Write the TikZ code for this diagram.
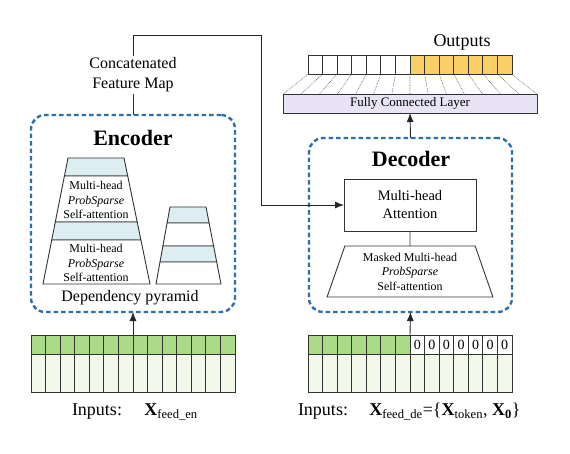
\documentclass[tikz,border=0pt]{standalone}
\usepackage{fontspec}
\setmainfont{Liberation Serif}
\usetikzlibrary{shapes.geometric,calc,positioning,arrows.meta}
\definecolor{dashblue}{RGB}{46,110,170}
\definecolor{layblue}{RGB}{220,238,242}
\definecolor{ingreen}{RGB}{170,219,134}
\definecolor{inlight}{RGB}{242,248,234}
\definecolor{outyel}{RGB}{249,208,101}
\definecolor{fclav}{RGB}{232,228,245}
\tikzset{
  grpbox/.style = {draw=dashblue, line width=2.4pt, dash pattern=on 4.5pt off 3pt, rounded corners=14pt, inner sep=0pt, outer sep=0pt},
  blk/.style = {draw=black!80, line width=0.9pt, inner sep=0pt, outer sep=0pt},
  txt/.style = {align=center, inner sep=1pt, font=\fontsize{12}{14.5}\selectfont},
  ttl/.style = {inner sep=0pt, font=\fontsize{22}{26}\selectfont\bfseries},
  lbl/.style = {inner sep=1pt, font=\fontsize{18}{22}\selectfont},
  arr/.style = {-{Latex[length=9pt,width=7pt]}, line width=0.9pt, draw=black!85},
  fan/.style = {densely dotted, line width=0.6pt, draw=black!70}
}
\begin{document}
\begin{tikzpicture}[x=1pt, y=-1pt]
\fill[white] (0,0) rectangle (570,454);
\useasboundingbox (0,0) rectangle (570,454);

% encoder side
\node [grpbox, minimum width=204pt, minimum height=197pt] (enc) at (133,213.5) {};
\node [ttl] (enct) at (133,138) {Encoder};
\coordinate (ptl) at (68,158);  \coordinate (ptr) at (124,158);
\coordinate (pbl) at (43,284);  \coordinate (pbr) at (150,284);
\foreach \a/\b/\c in {0/0.143/layblue, 0.143/0.508/white, 0.508/0.651/layblue, 0.651/1/white}
  \filldraw [blk, fill=\c] ($(ptl)!\a!(pbl)$) -- ($(ptr)!\a!(pbr)$) -- ($(ptr)!\b!(pbr)$) -- ($(ptl)!\b!(pbl)$) -- cycle;
\coordinate (qtl) at (170,207); \coordinate (qtr) at (206,207);
\coordinate (qbl) at (156,284); \coordinate (qbr) at (221,284);
\foreach \a/\b/\c in {0/0.208/layblue, 0.208/0.506/white, 0.506/0.714/layblue, 0.714/1/white}
  \filldraw [blk, fill=\c] ($(qtl)!\a!(qbl)$) -- ($(qtr)!\a!(qbr)$) -- ($(qtr)!\b!(qbr)$) -- ($(qtl)!\b!(qbl)$) -- cycle;
\node [txt] (sa1) at (96,200) {Multi-head\\\textit{ProbSparse}\\Self-attention};
\node [txt] (sa2) at (96,263) {Multi-head\\\textit{ProbSparse}\\Self-attention};
\node [inner sep=0pt, font=\fontsize{16}{19}\selectfont] (dep) at (130,298) {Dependency pyramid};
\node [align=center, inner sep=2pt, font=\fontsize{16}{20}\selectfont] (cfm) at (133,75) {Concatenated\\Feature Map};

% decoder side
\node [grpbox, minimum width=203pt, minimum height=174pt] (dec) at (410.5,225) {};
\node [ttl] (dect) at (411,159) {Decoder};
\node [blk, align=center, minimum width=132pt, minimum height=52pt,
       font=\fontsize{14.5}{18}\selectfont] (att) at (410,205) {Multi-head\\Attention};
\node [blk, txt, trapezium, trapezium left angle=71.57, trapezium right angle=71.57,
       trapezium stretches=true, minimum width=166pt, minimum height=51pt] (msa) at (410,271.5)
      {Masked Multi-head\\\textit{ProbSparse}\\Self-attention};

% outputs
\node [blk, minimum width=204pt, minimum height=19pt] (outrow) at (410,64.5) {};
\foreach \i in {0,...,13}
  \filldraw [blk, fill=white] ($(outrow.north west)+(\i*14.571,0)$) rectangle ++(14.571,19);
\foreach \i in {7,...,13}
  \filldraw [blk, fill=outyel] ($(outrow.north west)+(\i*14.571,0)$) rectangle ++(14.571,19);
\node [lbl] (outl) at (462,42) {Outputs};
\node [blk, fill=fclav, minimum width=254pt, minimum height=19pt,
       font=\fontsize{13}{15}\selectfont] (fc) at (410,103.5) {Fully Connected Layer};
\foreach \i in {0,...,14}
  \draw [fan] ($(outrow.south west)+(\i*14.571,0)$) -- ($(fc.north west)+(\i*18.143,0)$);

% input grids
\node [blk, minimum width=204pt, minimum height=57pt] (engrid) at (133,363.5) {};
\foreach \i in {0,...,13} {
  \filldraw [blk, fill=ingreen] ($(engrid.north west)+(\i*14.571,0)$) rectangle ++(14.571,19);
  \filldraw [blk, fill=inlight] ($(engrid.north west)+(\i*14.571,19)$) rectangle ++(14.571,38);
}
\node [blk, minimum width=204pt, minimum height=57pt] (degrid) at (410,363.5) {};
\foreach \i in {0,...,13}
  \filldraw [blk, fill=inlight] ($(degrid.north west)+(\i*14.571,19)$) rectangle ++(14.571,38);
\foreach \i in {0,...,6}
  \filldraw [blk, fill=ingreen] ($(degrid.north west)+(\i*14.571,0)$) rectangle ++(14.571,19);
\foreach \i in {7,...,13}
  \filldraw [blk, fill=white] ($(degrid.north west)+(\i*14.571,0)$) rectangle ++(14.571,19)
    node [midway, inner sep=0pt, font=\fontsize{14}{16}\selectfont] {0};

\node [lbl] (inen) at (97,412) {Inputs:};
\node [lbl, right=20pt of inen.base east, anchor=base west] (xen) {\textbf{X}\textsubscript{feed\_en}};
\node [lbl] (inde) at (323,412) {Inputs:};
\node [lbl, right=19pt of inde.base east, anchor=base west] (xde)
      {\textbf{X}\textsubscript{feed\_de}=\{\textbf{X}\textsubscript{token}, \textbf{X}\textsubscript{\textbf{0}}\}};

% connectors
\coordinate (turn) at (261,35);
\draw [blk] (enc.north) -- (cfm.south);
\draw [arr] (cfm.north) |- (turn) |- (att.west);
\draw [blk] (att.south) -- (msa.north);
\draw [arr] (engrid.north) -- (enc.south);
\draw [arr] (degrid.north) -- (dec.south);
\draw [arr] (dec.north) -- (fc.south);
\end{tikzpicture}
\end{document}
